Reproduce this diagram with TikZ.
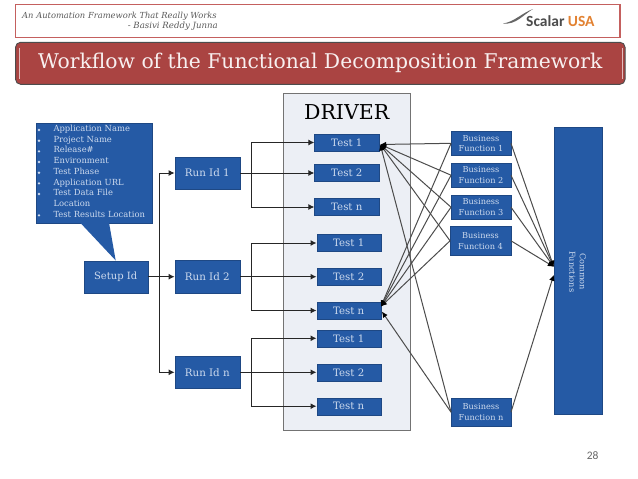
\documentclass[tikz,border=0pt]{standalone}
\usepackage{xcolor}
\usepackage{fontspec}
\setmainfont{DejaVu Serif}
\setsansfont{Carlito}
\usepackage{tikz}
\usetikzlibrary{shapes,arrows.meta,positioning,calc}
\definecolor{boxblue}{RGB}{37,90,165}
\definecolor{boxtext}{RGB}{205,218,238}
\definecolor{banner}{RGB}{170,68,66}
\definecolor{headline}{RGB}{196,96,94}
\definecolor{driverbg}{RGB}{236,239,245}
\definecolor{scalarorange}{RGB}{226,130,50}

\begin{document}
\begin{tikzpicture}[
    x=1pt, y=-1pt,
    block/.style={draw=boxblue!80!black, fill=boxblue, text=boxtext, inner sep=0pt, align=center},
    run/.style={block, minimum width=65pt, minimum height=32.5pt, font=\fontsize{10.3}{11}\selectfont},
    testa/.style={block, minimum width=64.5pt, minimum height=17pt, font=\fontsize{10.2}{10}\selectfont},
    testb/.style={testa, minimum width=64pt},
    func/.style={block, minimum width=59.5pt, minimum height=24.5pt, font=\fontsize{8.2}{10.5}\selectfont},
    arrow/.style={-{Latex[length=6pt,width=6pt]}, line width=1pt, black!85},
    link/.style={-{Latex[length=6pt,width=5.5pt,black]}, line width=1pt, black!70}
]
    \useasboundingbox (0,0) rectangle (638,479);

    % Header
    \node[draw=headline, line width=1.2pt, minimum width=604.5pt, minimum height=32.6pt, inner sep=0pt] (header) at (317.8,21) {};
    \node[anchor=west, inner sep=0pt, text=black!65, font=\fontsize{8.35}{11}\selectfont\itshape] (subtitle) at (22,16) {An Automation Framework That Really Works};
    \node[anchor=east, inner sep=0pt, text=black!65, font=\fontsize{8.6}{11}\selectfont\itshape] (speaker) at (218,26) {- Basivi Reddy Junna};
    \node[anchor=west, inner sep=0pt, font=\sffamily\bfseries\fontsize{15.5}{16}\selectfont, text=black!70] (scalar) at (526,21) {Scalar};
    \node[right=3pt of scalar, inner sep=0pt, font=\sffamily\bfseries\fontsize{15.5}{16}\selectfont, text=scalarorange] (usa) {USA};
    \fill[black!60] (503,23.5) .. controls (514,22) and (522,13) .. (533,9) .. controls (523,15) and (516,25) .. (503,23.5) -- cycle;

    % Title
    \node[draw=black!70, fill=banner, rounded corners=5pt, line width=0.9pt, minimum width=609.5pt, minimum height=42pt, text=white!92!banner, font=\fontsize{20.3}{24}\selectfont] (title) at (320.3,63.3) {Workflow of the Functional Decomposition Framework};
    \draw[white!65!banner, line width=1.2pt] ([xshift=4pt,yshift=-6pt]title.north west) -- ([xshift=4pt,yshift=6pt]title.south west);
    \draw[white!65!banner, line width=1.2pt] ([xshift=-3pt,yshift=-6pt]title.north east) -- ([xshift=-3pt,yshift=6pt]title.south east);

    % Driver
    \node[draw=black!55, fill=driverbg, line width=0.8pt, minimum width=127.5pt, minimum height=336.5pt, inner sep=0pt] (driver) at (347,262) {};
    \node[inner sep=0pt, font=\fontsize{20.5}{24}\selectfont] (drivertext) at (346.7,112.3) {DRIVER};

    % Setup and runs
    \node[block, minimum width=116pt, minimum height=100pt] (info) at (93.7,173.3) {};
    \node[block, minimum width=64pt, minimum height=32pt, font=\fontsize{10}{11}\selectfont] (setup) at (115.7,276.7) {Setup Id};
    \fill[boxblue] (80,222.5) -- (setup.north) -- (109,222.5) -- cycle;
    \node[anchor=north west, inner sep=0pt, text=boxtext, font=\fontsize{8.4}{10.7}\selectfont, align=left, text width=97pt] (infotext) at (53.3,125) {Application Name\\Project Name\\Release\#\\Environment\\Test Phase\\Application URL\\Test Data File\\Location\\Test Results Location};
    \foreach \y in {130,140.7,151.4,162,172.7,183.4,194,215.4}
        \fill[boxtext] (39,\y) circle (1.3);

    \node[run] (runa) at (207.3,173) {Run Id 1};
    \node[run] (runb) at (207.3,276.7) {Run Id 2};
    \node[run] (runc) at (207.3,372.3) {Run Id n};

    % Tests
    \node[testa] (testaa) at (346.8,142.5) {Test 1};
    \node[testa] (testab) at (346.8,173) {Test 2};
    \node[testa] (testac) at (346.8,207) {Test n};
    \node[testb] (testba) at (348.7,243) {Test 1};
    \node[testb] (testbb) at (348.7,276.7) {Test 2};
    \node[testb] (testbc) at (348.7,310.5) {Test n};
    \node[testb] (testca) at (348.7,338.3) {Test 1};
    \node[testb] (testcb) at (348.7,372.3) {Test 2};
    \node[testb] (testcc) at (348.7,406.2) {Test n};

    % Business functions
    \node[func] (funca) at (481,143.3) {Business\\Function 1};
    \node[func] (funcb) at (481,175.2) {Business\\Function 2};
    \node[func] (funcc) at (481,207.2) {Business\\Function 3};
    \node[func, minimum width=60.5pt, minimum height=28.5pt] (funcd) at (480.5,240.8) {Business\\Function 4};
    \node[func, minimum height=28.5pt] (funcn) at (481,412.2) {Business\\Function n};

    % Common functions
    \node[block, minimum width=48.5pt, minimum height=287pt] (common) at (578.2,270.8) {};
    \node[inner sep=0pt, rotate=-90, text=boxtext, font=\fontsize{8.2}{10.5}\selectfont, align=center] (commontext) at (577.7,271.7) {Common\\Functions};

    % Connections
    \draw[arrow] (setup) -- (runb);
    \coordinate (trunk) at (159,276.7);
    \draw[arrow] (trunk) |- (runa);
    \draw[arrow] (trunk) |- (runc);

    \coordinate (brancha) at (251.3,173);
    \coordinate (branchb) at (251.3,276.7);
    \coordinate (branchc) at (251.3,372.3);
    \draw[arrow] (runa) -- (testab);
    \draw[arrow] (brancha) |- (testaa);
    \draw[arrow] (brancha) |- (testac);
    \draw[arrow] (runb) -- (testbb);
    \draw[arrow] (branchb) |- (testba);
    \draw[arrow] (branchb) |- (testbc);
    \draw[arrow] (runc) -- (testcb);
    \draw[arrow] (branchc) |- (testca);
    \draw[arrow] (branchc) |- (testcc);

    \foreach \f in {funca,funcb,funcc,funcd,funcn}
        \draw[link] (\f.west) -- ([yshift=-2pt,xshift=1pt]testaa.east);
    \foreach \f in {funca,funcb,funcc,funcd}
        \draw[link] (\f.west) -- ([yshift=4pt]testbc.east);
    \draw[link] (funcn.west) -- ([yshift=-1pt,xshift=1pt]testbc.east);
    \foreach \f in {funca,funcb,funcc,funcd}
        \draw[link] (\f.east) -- ([yshift=4pt]common.west);
    \draw[link] (funcn.east) -- ([yshift=-4pt]common.west);

    % Page number
    \node[inner sep=0pt, text=black!60, font=\sffamily\fontsize{11.5}{13}\selectfont] (page) at (592.7,456) {28};
\end{tikzpicture}
\end{document}
